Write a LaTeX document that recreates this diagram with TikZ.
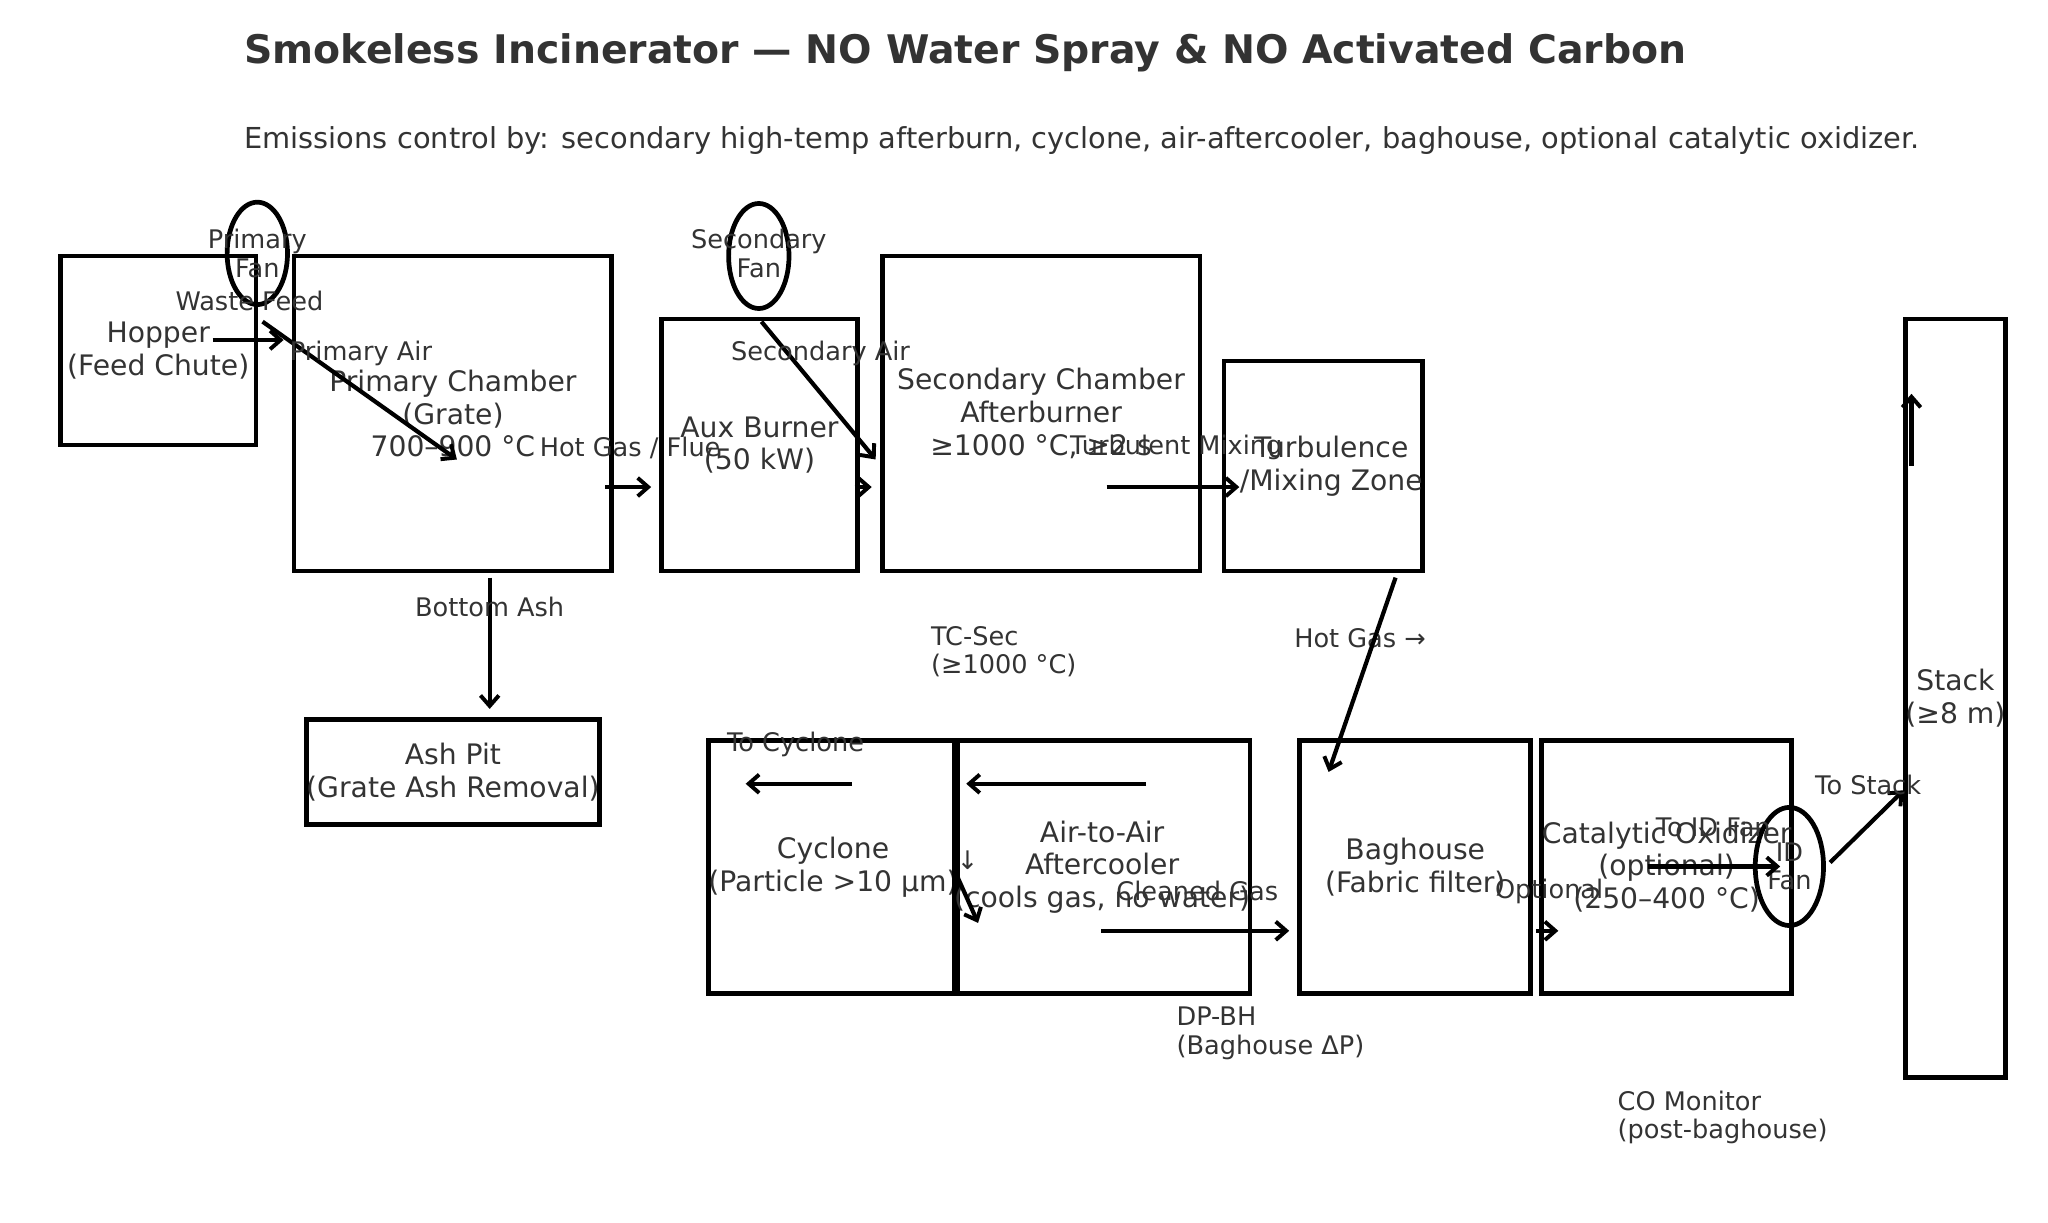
\documentclass[tikz,border=0pt]{standalone}
\usepackage{fontspec}
\setmainfont{DejaVu Sans}
\usetikzlibrary{arrows.meta,shapes.geometric}
\definecolor{tx}{HTML}{333333}
\begin{document}
\begin{tikzpicture}[x=1pt,y=-1pt,
 box/.style={draw=black,line width=3.6pt,inner sep=0pt,text=tx,font=\fontsize{21.5}{25}\selectfont,align=center},
 fan/.style={draw=black,line width=3.6pt,ellipse,inner sep=0pt},
 lab/.style={text=tx,font=\fontsize{19.5}{21.5}\selectfont,align=center,inner sep=0pt},
 llab/.style={lab,align=left,anchor=north west},
 arr/.style={line width=3.2pt,-{Straight Barb[length=8pt,width=14pt,line width=3pt]}}]
\useasboundingbox (0,0) rectangle (1560,931);
\node[anchor=west,text=tx,font=\fontsize{30}{34}\selectfont\bfseries,inner sep=0] (title) at (186,40) {Smokeless Incinerator — NO Water Spray \& NO Activated Carbon};
\node[anchor=west,text=tx,font=\fontsize{22}{26}\selectfont,inner sep=0] (sub) at (186,107) {Emissions control by: secondary high-temp afterburn, cyclone, air-aftercooler, baghouse, optional catalytic oxidizer.};
% boxes
\node[box,minimum width=149,minimum height=144] (hop) at (120.5,267) {Hopper\\(Feed Chute)};
\node[box,minimum width=242,minimum height=240] (pc) at (345,315) {Primary Chamber\\(Grate)\\700–900 °C};
\node[box,minimum width=149,minimum height=192] (aux) at (578.5,339) {Aux Burner\\(50 kW)};
\node[box,minimum width=242,minimum height=240] (sc) at (793,315) {Secondary Chamber\\Afterburner\\≥1000 °C, ≥2 s};
\node[box,minimum width=112,minimum height=160] (tz) at (1008,355) {\hspace*{12pt}Turbulence\\\hspace*{12pt}/Mixing Zone};
\node[box,minimum width=168,minimum height=80] (ash) at (345,588) {Ash Pit\\(Grate Ash Removal)};
\node[box,minimum width=149,minimum height=193] (cyc) at (634.5,660.5) {Cyclone\\(Particle >10 µm)};
\node[box,minimum width=187,minimum height=193] (ac) at (839.5,660.5) {Air-to-Air\\Aftercooler\\(cools gas, no water)};
\node[box,minimum width=176,minimum height=193] (bh) at (1078,660.5) {Baghouse\\(Fabric filter)};
\node[box,minimum width=149,minimum height=193] (co) at (1269.5,660.5) {Catalytic Oxidizer\\(optional)\\(250–400 °C)};
\node[box,minimum width=65,minimum height=578] (st) at (1489.5,532) {Stack\\(≥8 m)};
\node[fan,minimum width=46,minimum height=78] (pf) at (196,193) {};
\node[lab] at (196,193) {Primary\\Fan};
\node[fan,minimum width=46,minimum height=80] (sf) at (578,195) {};
\node[lab] at (578,193) {Secondary\\Fan};
\node[fan,minimum width=52,minimum height=90] (idf) at (1363,660) {};
\node[lab] at (1363,660) {ID\\Fan};
% arrows
\draw[arr] (162,259) coordinate (a1) -- (216,259) coordinate (b1);
\node[lab] at (190,229) {Waste Feed};
\draw[arr] (200,245) -- (348,350);
\node[lab] at (275,269) {Primary Air};
\draw[arr] (580,245) -- (667,350);
\node[lab] at (625,269) {Secondary Air};
\draw[arr] (461,371) -- (496,371);
\node[lab] at (480,341) {Hot Gas / Flue};
\draw[arr] (651,371) -- (664,371);
\draw[arr] (843,371) -- (944,371);
\node[lab] at (896,341) {Turbulent Mixing};
\draw[arr] (373,440) -- (373,540);
\node[lab] at (373,462) {Bottom Ash};
\node[llab] at (709,477) {TC-Sec\\(≥1000 °C)};
\node[lab] at (1036,486) {Hot Gas →};
\draw[arr] (1063,440) -- (1012,588);
\draw[arr] (873,597) -- (736,597);
\draw[arr] (649,597) -- (568,597);
\node[lab] at (606,567) {To Cyclone};
\node[lab] at (737,655) {↓};
\draw[arr] (728,665) -- (745,703);
\draw[arr] (839,709) -- (982,709);
\node[lab] at (912,679) {Cleaned Gas};
\draw[arr] (1170,709) -- (1187,709);
\node[lab] at (1180,679) {Optional};
\draw[arr] (1255,660) -- (1356,660);
\node[lab] at (1305,630) {To ID Fan};
\draw[arr] (1394,657) -- (1450,602);
\node[lab] at (1423,598) {To Stack};
\draw[arr] (1456,355) -- (1456,300);
\node[llab] at (896,767) {DP-BH\\(Baghouse ΔP)};
\node[llab] at (1232,831) {CO Monitor\\(post-baghouse)};
\end{tikzpicture}
\end{document}
